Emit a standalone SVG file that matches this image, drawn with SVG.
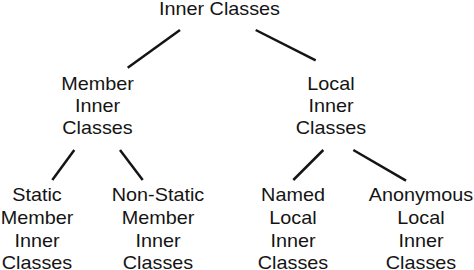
<svg xmlns="http://www.w3.org/2000/svg" width="474" height="270" viewBox="0 0 474 270">
<style>
text{font-family:"Liberation Sans",Arial,sans-serif;font-size:18px;fill:#141414;text-anchor:middle}
.c line{stroke:#141414;stroke-width:2.5;stroke-linecap:butt}
</style>
<rect width="474" height="270" fill="#fff"/>
<g class="c" id="connectors">
<line x1="180" y1="30" x2="127.7" y2="67.7"/>
<line x1="255.7" y1="30" x2="315.7" y2="60.3"/>
<line x1="74.3" y1="150" x2="52.3" y2="180"/>
<line x1="120" y1="150" x2="142.7" y2="180"/>
<line x1="323.3" y1="150" x2="293.3" y2="180"/>
<line x1="353.3" y1="150" x2="406" y2="180.7"/>
</g>
<g id="root" transform="translate(219.5,0) scale(1.1,1)"><text x="0" y="14.5">Inner Classes</text></g>
<g id="member" transform="translate(97.5,0) scale(1.1,1)"><text x="0" y="90.5">Member</text><text x="0" y="112.5">Inner</text><text x="0" y="134">Classes</text></g>
<g id="local" transform="translate(331,0) scale(1.1,1)"><text x="0" y="90.5">Local</text><text x="0" y="112.5">Inner</text><text x="0" y="134">Classes</text></g>
<g id="static" transform="translate(37,0) scale(1.1,1)"><text x="0" y="201.5">Static</text><text x="0" y="224.5">Member</text><text x="0" y="247">Inner</text><text x="0" y="269.5">Classes</text></g>
<g id="nonstatic" transform="translate(158,0) scale(1.1,1)"><text x="0" y="201.5">Non-Static</text><text x="0" y="224.5">Member</text><text x="0" y="247">Inner</text><text x="0" y="269.5">Classes</text></g>
<g id="named" transform="translate(293,0) scale(1.1,1)"><text x="0" y="201.5">Named</text><text x="0" y="224.5">Local</text><text x="0" y="247">Inner</text><text x="0" y="269.5">Classes</text></g>
<g id="anonymous" transform="translate(421,0) scale(1.1,1)"><text x="0" y="201.5">Anonymous</text><text x="0" y="224.5">Local</text><text x="0" y="247">Inner</text><text x="0" y="269.5">Classes</text></g>
</svg>
